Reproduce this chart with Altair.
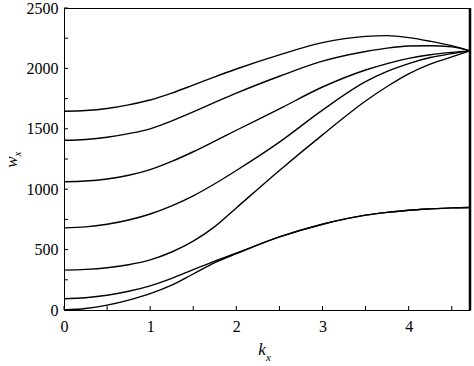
import altair as alt
import pandas as pd

# shared k_x grid
kx = [0, 0.25, 0.5, 0.75, 1.0, 1.25, 1.5, 1.75, 2.0, 2.5, 3.0, 3.5, 3.75, 4.0, 4.25, 4.5, 4.712]

# branch values (w_x)
w1 = [1645, 1651, 1668, 1698, 1738, 1795, 1862, 1930, 1995, 2112, 2213, 2265, 2271, 2255, 2225, 2188, 2145]
w2 = [1405, 1412, 1430, 1460, 1500, 1565, 1640, 1718, 1795, 1935, 2060, 2140, 2168, 2185, 2188, 2178, 2145]
w3 = [1062, 1068, 1085, 1115, 1162, 1230, 1310, 1398, 1488, 1665, 1846, 1987, 2040, 2083, 2113, 2133, 2145]
w4 = [680, 688, 710, 745, 795, 862, 945, 1045, 1155, 1390, 1655, 1890, 1975, 2040, 2090, 2122, 2145]
w5 = [330, 336, 350, 375, 415, 480, 570, 690, 845, 1155, 1450, 1730, 1850, 1955, 2035, 2095, 2145]
w6 = [93, 102, 122, 155, 200, 262, 335, 405, 470, 605, 710, 785, 808, 826, 837, 845, 848]
w7 = [0, 12, 40, 82, 135, 205, 298, 392, 466, 605, 710, 785, 808, 826, 837, 845, 848]

series = {"b1": w1, "b2": w2, "b3": w3, "b4": w4, "b5": w5, "b6": w6, "b7": w7}

x_ticks = [0, 0.5, 1, 1.5, 2, 2.5, 3, 3.5, 4, 4.5]
y_ticks = [0, 250, 500, 750, 1000, 1250, 1500, 1750, 2000, 2250, 2500]

rows = []
for name, vals in series.items():
    for k, w in zip(kx, vals):
        rows.append({"branch": name, "kx": k, "w": w})
df = pd.DataFrame(rows)

W, H = 406, 302
FONT = "Liberation Serif"
TICK = 4

xscale = alt.Scale(domain=[0, 4.712], nice=False, zero=False)
yscale = alt.Scale(domain=[0, 2500], nice=False)

xaxis = alt.Axis(values=x_ticks, title=None, grid=False, ticks=False,
                 labelExpr="datum.value % 1 == 0 ? format(datum.value, 'd') : ''",
                 labelFont=FONT, labelFontSize=16, labelColor="black",
                 labelPadding=8, labelFlush=False,
                 domainColor="black", domainWidth=1)
yaxis = alt.Axis(values=y_ticks, title=None, grid=False, ticks=False,
                 labelExpr="datum.value % 500 == 0 ? format(datum.value, 'd') : ''",
                 labelFont=FONT, labelFontSize=16, labelColor="black",
                 labelPadding=6, labelFlush=False,
                 domainColor="black", domainWidth=1)

lines = alt.Chart(df).mark_line(color="black", strokeWidth=1.4, interpolate="monotone").encode(
    x=alt.X("kx:Q", scale=xscale, axis=xaxis),
    y=alt.Y("w:Q", scale=yscale, axis=yaxis),
    detail="branch:N",
)

xtick_layer = alt.Chart(pd.DataFrame({"kx": x_ticks})).mark_rule(color="black", strokeWidth=1).encode(
    x=alt.X("kx:Q", scale=xscale, axis=xaxis), y=alt.value(H), y2=alt.value(H - TICK)
)
ytick_layer = alt.Chart(pd.DataFrame({"w": y_ticks})).mark_rule(color="black", strokeWidth=1).encode(
    y=alt.Y("w:Q", scale=yscale, axis=yaxis), x=alt.value(0), x2=alt.value(TICK)
)

right_edge = alt.Chart(pd.DataFrame({"a": [0]})).mark_rule(color="black", strokeWidth=2.5).encode(
    x=alt.value(W), y=alt.value(0), y2=alt.value(H)
)

kt = alt.Chart(pd.DataFrame({"t": ["k"]})).mark_text(
    font=FONT, fontStyle="italic", fontSize=17, color="black", align="center", baseline="middle"
).encode(x=alt.value(198), y=alt.value(342), text="t:N")
ks = alt.Chart(pd.DataFrame({"t": ["x"]})).mark_text(
    font=FONT, fontStyle="italic", fontSize=11, color="black", align="center", baseline="middle"
).encode(x=alt.value(204.5), y=alt.value(350), text="t:N")

wt = alt.Chart(pd.DataFrame({"t": ["w"]})).mark_text(
    font=FONT, fontStyle="italic", fontSize=17, color="black", align="center", baseline="middle", angle=270
).encode(x=alt.value(-52), y=alt.value(154), text="t:N")
ws = alt.Chart(pd.DataFrame({"t": ["x"]})).mark_text(
    font=FONT, fontStyle="italic", fontSize=11, color="black", align="center", baseline="middle", angle=270
).encode(x=alt.value(-46), y=alt.value(146), text="t:N")

chart = alt.layer(lines, xtick_layer, ytick_layer, right_edge, kt, ks, wt, ws).properties(
    width=W, height=H,
    padding={"left": 64, "top": 8, "right": 4, "bottom": 56},
    autosize=alt.AutoSizeParams(type="none"),
    background="white",
).configure_view(stroke="black", strokeWidth=1)

chart.save("out.html", embed_options={"renderer": "svg", "actions": False})
